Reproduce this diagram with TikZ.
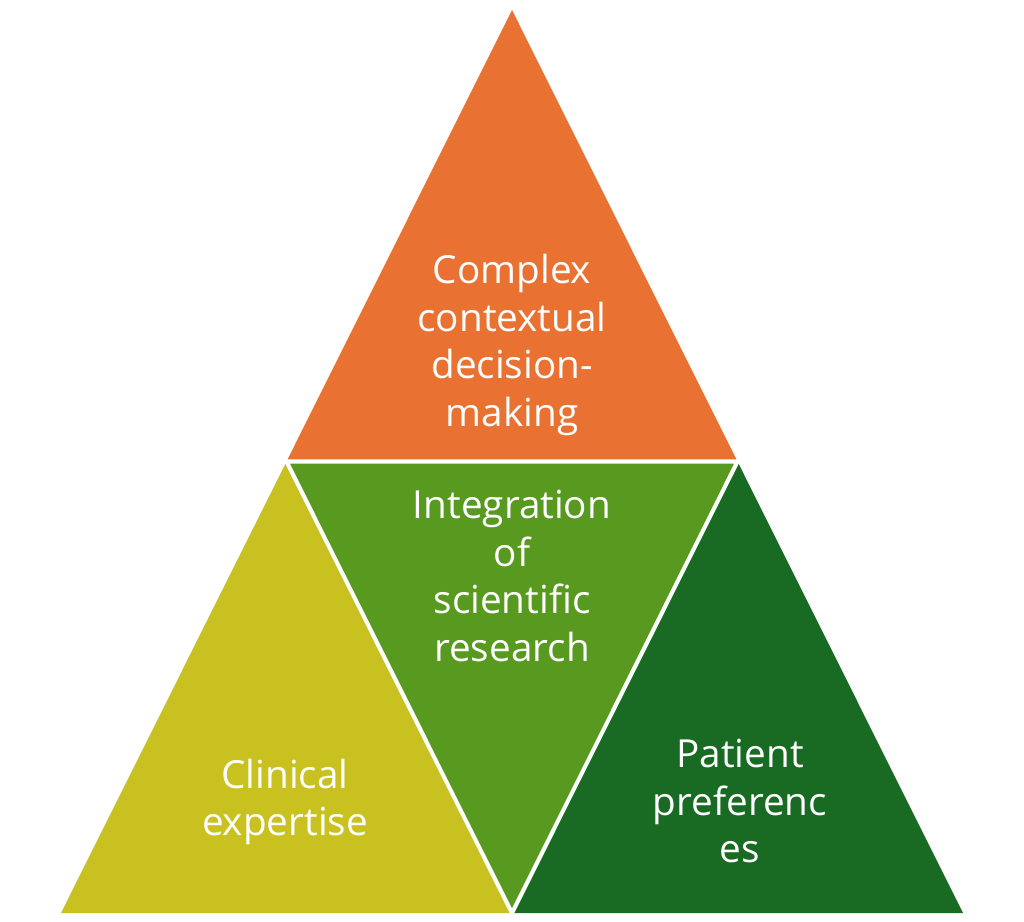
\documentclass[tikz,border=0pt]{standalone}
\usepackage{fontspec}
\setmainfont{Open Sans}
\usepackage{tikz}
\usetikzlibrary{positioning, calc}
\definecolor{myorange}{RGB}{233,113,50}
\definecolor{myolive}{RGB}{201,193,31}
\definecolor{mygreen}{RGB}{88,153,32}
\definecolor{mydkgreen}{RGB}{25,107,36}
\tikzset{
  part/.style={draw=none},
  divider/.style={draw=white, line width=2.9pt, line join=miter},
  label/.style={text=white, align=center, inner sep=0pt,
    font=\fontsize{27.5pt}{34pt}\selectfont}
}

\begin{document}
\begin{tikzpicture}[x=0.025cm, y=-0.025cm]
  \useasboundingbox (0,0) rectangle (1024,921);

  % Corners
  \coordinate (apex) at (512,10);
  \coordinate (bl) at (61,913);
  \coordinate (br) at (963,913);
  \coordinate (ml) at ($(apex)!0.5!(bl)$);
  \coordinate (mr) at ($(apex)!0.5!(br)$);
  \coordinate (mb) at ($(bl)!0.5!(br)$);

  % Triangles
  \fill[part, myorange] (apex) -- (ml) -- (mr) -- cycle;
  \fill[part, myolive] (ml) -- (bl) -- (mb) -- cycle;
  \fill[part, mygreen] (ml) -- (mr) -- (mb) -- cycle;
  \fill[part, mydkgreen] (mr) -- (mb) -- (br) -- cycle;
  \draw[divider] (ml) -- (mr) -- (mb) -- cycle;

  % Labels
  \node[label] (decision) at (512,345) {Complex\\contextual\\decision-\\making};
  \node[label] (research) at (512,576) {Integration\\of\\scientific\\research};
  \node[label] (clinical) at (285,802) {Clinical\\expertise};
  \node[label] (patient) at (740,801) {Patient\\preferenc\\es};
\end{tikzpicture}
\end{document}
